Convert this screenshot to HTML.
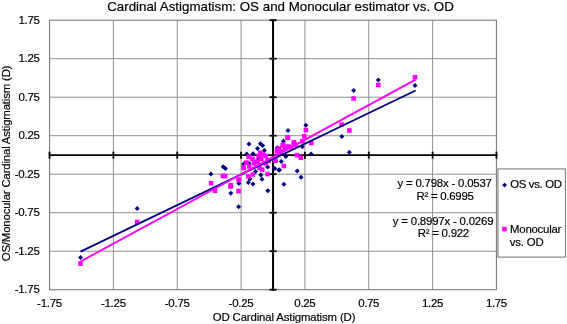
<!DOCTYPE html>
<html><head><meta charset="utf-8"><title>Cardinal Astigmatism</title>
<style>
html,body{margin:0;padding:0;background:#fff;}
body{width:567px;height:324px;overflow:hidden;}
svg{display:block;}
text{font-family:"Liberation Sans",Arial,sans-serif;fill:#000;stroke:#000;stroke-width:0.18;}
</style></head><body>
<svg width="567" height="324" viewBox="0 0 567 324">
<rect x="0" y="0" width="567" height="324" fill="#fff"/>

<g stroke="#909090" stroke-width="1" fill="none">
<line x1="113.39" y1="20.20" x2="113.39" y2="289.70"/>
<line x1="177.24" y1="20.20" x2="177.24" y2="289.70"/>
<line x1="241.08" y1="20.20" x2="241.08" y2="289.70"/>
<line x1="304.92" y1="20.20" x2="304.92" y2="289.70"/>
<line x1="368.76" y1="20.20" x2="368.76" y2="289.70"/>
<line x1="432.61" y1="20.20" x2="432.61" y2="289.70"/>
<line x1="49.55" y1="58.70" x2="496.45" y2="58.70"/>
<line x1="49.55" y1="97.20" x2="496.45" y2="97.20"/>
<line x1="49.55" y1="135.70" x2="496.45" y2="135.70"/>
<line x1="49.55" y1="174.20" x2="496.45" y2="174.20"/>
<line x1="49.55" y1="212.70" x2="496.45" y2="212.70"/>
<line x1="49.55" y1="251.20" x2="496.45" y2="251.20"/>
</g>
<rect x="49.55" y="20.20" width="446.90" height="269.50" fill="none" stroke="#808080" stroke-width="1.15"/>
<g stroke="#000" fill="none">
<line x1="48.65" y1="155.15" x2="497.35" y2="155.15" stroke-width="1.9"/>
<line x1="273.05" y1="19.40" x2="273.05" y2="290.70" stroke-width="2"/>
<line x1="49.55" y1="151.65" x2="49.55" y2="158.65" stroke-width="1.8"/>
<line x1="113.39" y1="151.65" x2="113.39" y2="158.65" stroke-width="1.8"/>
<line x1="177.24" y1="151.65" x2="177.24" y2="158.65" stroke-width="1.8"/>
<line x1="241.08" y1="151.65" x2="241.08" y2="158.65" stroke-width="1.8"/>
<line x1="304.92" y1="151.65" x2="304.92" y2="158.65" stroke-width="1.8"/>
<line x1="368.76" y1="151.65" x2="368.76" y2="158.65" stroke-width="1.8"/>
<line x1="432.61" y1="151.65" x2="432.61" y2="158.65" stroke-width="1.8"/>
<line x1="496.45" y1="151.65" x2="496.45" y2="158.65" stroke-width="1.8"/>
<line x1="269.55" y1="20.20" x2="276.55" y2="20.20" stroke-width="1.8"/>
<line x1="269.55" y1="58.70" x2="276.55" y2="58.70" stroke-width="1.8"/>
<line x1="269.55" y1="97.20" x2="276.55" y2="97.20" stroke-width="1.8"/>
<line x1="269.55" y1="135.70" x2="276.55" y2="135.70" stroke-width="1.8"/>
<line x1="269.55" y1="174.20" x2="276.55" y2="174.20" stroke-width="1.8"/>
<line x1="269.55" y1="212.70" x2="276.55" y2="212.70" stroke-width="1.8"/>
<line x1="269.55" y1="251.20" x2="276.55" y2="251.20" stroke-width="1.8"/>
<line x1="269.55" y1="289.70" x2="276.55" y2="289.70" stroke-width="1.8"/>
</g>
<g fill="#000080">
<path d="M137.2 206.0L139.7 208.5L137.2 211.0L134.7 208.5Z"/>
<path d="M80.5 254.9L83.0 257.4L80.5 259.9L78.0 257.4Z"/>
<path d="M353.6 88.1L356.1 90.6L353.6 93.1L351.1 90.6Z"/>
<path d="M378.3 77.5L380.8 80.0L378.3 82.5L375.8 80.0Z"/>
<path d="M415 82.9L417.5 85.4L415 87.9L412.5 85.4Z"/>
<path d="M341.9 133.9L344.4 136.4L341.9 138.9L339.4 136.4Z"/>
<path d="M349.4 149.8L351.9 152.3L349.4 154.8L346.9 152.3Z"/>
<path d="M305.9 122.8L308.4 125.3L305.9 127.8L303.4 125.3Z"/>
<path d="M288.0 128.0L290.5 130.5L288.0 133.0L285.5 130.5Z"/>
<path d="M283.4 138.8L285.9 141.3L283.4 143.8L280.9 141.3Z"/>
<path d="M302.4 144.2L304.9 146.7L302.4 149.2L299.9 146.7Z"/>
<path d="M311.1 151.6L313.6 154.1L311.1 156.6L308.6 154.1Z"/>
<path d="M285.8 153.9L288.3 156.4L285.8 158.9L283.3 156.4Z"/>
<path d="M281.3 159.1L283.8 161.6L281.3 164.1L278.8 161.6Z"/>
<path d="M297.2 168.4L299.7 170.9L297.2 173.4L294.7 170.9Z"/>
<path d="M301.0 174.8L303.5 177.3L301.0 179.8L298.5 177.3Z"/>
<path d="M283.8 181.8L286.3 184.3L283.8 186.8L281.3 184.3Z"/>
<path d="M279.5 167.5L282.0 170.0L279.5 172.5L277.0 170.0Z"/>
<path d="M249.0 141.6L251.5 144.1L249.0 146.6L246.5 144.1Z"/>
<path d="M260.4 141.3L262.9 143.8L260.4 146.3L257.9 143.8Z"/>
<path d="M262.6 143.1L265.1 145.6L262.6 148.1L260.1 145.6Z"/>
<path d="M257.5 146.1L260.0 148.6L257.5 151.1L255.0 148.6Z"/>
<path d="M264.4 148.0L266.9 150.5L264.4 153.0L261.9 150.5Z"/>
<path d="M246.8 151.6L249.3 154.1L246.8 156.6L244.3 154.1Z"/>
<path d="M253.1 151.2L255.6 153.7L253.1 156.2L250.6 153.7Z"/>
<path d="M277.4 145.3L279.9 147.8L277.4 150.3L274.9 147.8Z"/>
<path d="M243.9 161.4L246.4 163.9L243.9 166.4L241.4 163.9Z"/>
<path d="M249.2 161.0L251.7 163.5L249.2 166.0L246.7 163.5Z"/>
<path d="M258.2 157.1L260.7 159.6L258.2 162.1L255.7 159.6Z"/>
<path d="M267.6 164.4L270.1 166.9L267.6 169.4L265.1 166.9Z"/>
<path d="M274.7 166.1L277.2 168.6L274.7 171.1L272.2 168.6Z"/>
<path d="M278.7 167.6L281.2 170.1L278.7 172.6L276.2 170.1Z"/>
<path d="M260.9 172.5L263.4 175.0L260.9 177.5L258.4 175.0Z"/>
<path d="M262.0 176.8L264.5 179.3L262.0 181.8L259.5 179.3Z"/>
<path d="M248.3 179.9L250.8 182.4L248.3 184.9L245.8 182.4Z"/>
<path d="M253.0 181.5L255.5 184.0L253.0 186.5L250.5 184.0Z"/>
<path d="M238.9 181.0L241.4 183.5L238.9 186.0L236.4 183.5Z"/>
<path d="M255.5 168.9L258.0 171.4L255.5 173.9L253.0 171.4Z"/>
<path d="M250.0 176.5L252.5 179.0L250.0 181.5L247.5 179.0Z"/>
<path d="M230.8 190.8L233.3 193.3L230.8 195.8L228.3 193.3Z"/>
<path d="M238.6 204.3L241.1 206.8L238.6 209.3L236.1 206.8Z"/>
<path d="M267.8 188.3L270.3 190.8L267.8 193.3L265.3 190.8Z"/>
<path d="M210.9 171.6L213.4 174.1L210.9 176.6L208.4 174.1Z"/>
<path d="M223.2 164.3L225.7 166.8L223.2 169.3L220.7 166.8Z"/>
<path d="M225.4 166.1L227.9 168.6L225.4 171.1L222.9 168.6Z"/>
<path d="M244.2 161.4L246.7 163.9L244.2 166.4L241.7 163.9Z"/>
</g>
<g fill="#ff00ff">
<rect x="134.9" y="219.7" width="4.6" height="4.6"/>
<rect x="78.2" y="261.3" width="4.6" height="4.6"/>
<rect x="351.3" y="96.2" width="4.6" height="4.6"/>
<rect x="376.0" y="82.7" width="4.6" height="4.6"/>
<rect x="412.7" y="74.9" width="4.6" height="4.6"/>
<rect x="339.3" y="122.2" width="4.6" height="4.6"/>
<rect x="347.1" y="128.2" width="4.6" height="4.6"/>
<rect x="303.6" y="127.8" width="4.6" height="4.6"/>
<rect x="285.7" y="135.6" width="4.6" height="4.6"/>
<rect x="301.9" y="134.0" width="4.6" height="4.6"/>
<rect x="300.1" y="139.0" width="4.6" height="4.6"/>
<rect x="291.6" y="140.7" width="4.6" height="4.6"/>
<rect x="309.0" y="140.7" width="4.6" height="4.6"/>
<rect x="281.1" y="142.5" width="4.6" height="4.6"/>
<rect x="286.7" y="144.5" width="4.6" height="4.6"/>
<rect x="294.7" y="152.9" width="4.6" height="4.6"/>
<rect x="298.5" y="155.4" width="4.6" height="4.6"/>
<rect x="281.5" y="163.7" width="4.6" height="4.6"/>
<rect x="280.4" y="143.1" width="4.6" height="4.6"/>
<rect x="278.6" y="149.3" width="4.6" height="4.6"/>
<rect x="258.1" y="150.5" width="4.6" height="4.6"/>
<rect x="260.8" y="152.2" width="4.6" height="4.6"/>
<rect x="263.5" y="153.6" width="4.6" height="4.6"/>
<rect x="246.5" y="154.5" width="4.6" height="4.6"/>
<rect x="250.1" y="156.7" width="4.6" height="4.6"/>
<rect x="256.3" y="153.6" width="4.6" height="4.6"/>
<rect x="254.5" y="159.4" width="4.6" height="4.6"/>
<rect x="244.2" y="160.3" width="4.6" height="4.6"/>
<rect x="274.7" y="149.1" width="4.6" height="4.6"/>
<rect x="272.4" y="156.3" width="4.6" height="4.6"/>
<rect x="265.3" y="158.1" width="4.6" height="4.6"/>
<rect x="259.0" y="156.7" width="4.6" height="4.6"/>
<rect x="241.1" y="165.1" width="4.6" height="4.6"/>
<rect x="246.9" y="164.2" width="4.6" height="4.6"/>
<rect x="251.9" y="161.1" width="4.6" height="4.6"/>
<rect x="255.4" y="159.3" width="4.6" height="4.6"/>
<rect x="257.2" y="165.5" width="4.6" height="4.6"/>
<rect x="259.9" y="167.3" width="4.6" height="4.6"/>
<rect x="265.3" y="171.8" width="4.6" height="4.6"/>
<rect x="250.5" y="172.2" width="4.6" height="4.6"/>
<rect x="246.0" y="174.0" width="4.6" height="4.6"/>
<rect x="236.6" y="177.2" width="4.6" height="4.6"/>
<rect x="228.6" y="183.0" width="4.6" height="4.6"/>
<rect x="263.5" y="161.1" width="4.6" height="4.6"/>
<rect x="266.2" y="158.4" width="4.6" height="4.6"/>
<rect x="273.3" y="158.4" width="4.6" height="4.6"/>
<rect x="208.8" y="180.9" width="4.6" height="4.6"/>
<rect x="212.6" y="188.5" width="4.6" height="4.6"/>
<rect x="228.2" y="184.2" width="4.6" height="4.6"/>
<rect x="236.3" y="188.8" width="4.6" height="4.6"/>
<rect x="236.3" y="177.8" width="4.6" height="4.6"/>
<rect x="220.6" y="173.7" width="4.6" height="4.6"/>
<rect x="222.9" y="173.7" width="4.6" height="4.6"/>
<rect x="241.4" y="165.7" width="4.6" height="4.6"/>
<rect x="285.3" y="135.1" width="4.6" height="4.6"/>
<rect x="291.7" y="140.1" width="4.6" height="4.6"/>
<rect x="285.3" y="144.4" width="4.6" height="4.6"/>
<rect x="275.0" y="147.9" width="4.6" height="4.6"/>
<rect x="276.7" y="146.2" width="4.6" height="4.6"/>
<rect x="282.7" y="146.7" width="4.6" height="4.6"/>
<rect x="288.7" y="145.2" width="4.6" height="4.6"/>
<rect x="293.7" y="142.7" width="4.6" height="4.6"/>
</g>
<line x1="80.5" y1="251.7" x2="415.6" y2="90.5" stroke="#000080" stroke-width="1.85"/>
<line x1="80.5" y1="261.5" x2="415.6" y2="79.7" stroke="#ff00ff" stroke-width="1.9"/>
<text x="280.5" y="10.8" font-size="13.33" text-anchor="middle">Cardinal Astigmatism: OS and Monocular estimator vs. OD</text>
<text x="18.55" y="23.8" font-size="11.5" textLength="21.3" lengthAdjust="spacing">1.75</text>
<text x="18.55" y="62.3" font-size="11.5" textLength="21.3" lengthAdjust="spacing">1.25</text>
<text x="18.55" y="100.8" font-size="11.5" textLength="21.3" lengthAdjust="spacing">0.75</text>
<text x="18.55" y="139.3" font-size="11.5" textLength="21.3" lengthAdjust="spacing">0.25</text>
<text x="14.65" y="177.8" font-size="11.5" textLength="25.2" lengthAdjust="spacing">-0.25</text>
<text x="14.65" y="216.3" font-size="11.5" textLength="25.2" lengthAdjust="spacing">-0.75</text>
<text x="14.65" y="254.8" font-size="11.5" textLength="25.2" lengthAdjust="spacing">-1.25</text>
<text x="14.65" y="293.3" font-size="11.5" textLength="25.2" lengthAdjust="spacing">-1.75</text>
<text x="37.05" y="306.5" font-size="11.5" textLength="25.2" lengthAdjust="spacing">-1.75</text>
<text x="100.89" y="306.5" font-size="11.5" textLength="25.2" lengthAdjust="spacing">-1.25</text>
<text x="164.74" y="306.5" font-size="11.5" textLength="25.2" lengthAdjust="spacing">-0.75</text>
<text x="228.58" y="306.5" font-size="11.5" textLength="25.2" lengthAdjust="spacing">-0.25</text>
<text x="294.37" y="306.5" font-size="11.5" textLength="21.3" lengthAdjust="spacing">0.25</text>
<text x="358.21" y="306.5" font-size="11.5" textLength="21.3" lengthAdjust="spacing">0.75</text>
<text x="422.06" y="306.5" font-size="11.5" textLength="21.3" lengthAdjust="spacing">1.25</text>
<text x="485.90" y="306.5" font-size="11.5" textLength="21.3" lengthAdjust="spacing">1.75</text>
<text x="212.7" y="320.8" font-size="11.4" textLength="142.8" lengthAdjust="spacing">OD Cardinal Astigmatism (D)</text>
<text transform="translate(10.0,261.3) rotate(-90)" font-size="11.4" textLength="195.8" lengthAdjust="spacing">OS/Monocular Cardinal Astigmatism (D)</text>
<text x="397.6" y="186.7" font-size="11.4" textLength="94.3" lengthAdjust="spacing">y = 0.798x - 0.0537</text>
<text x="416.6" y="199.6" font-size="11.4" textLength="57.2" lengthAdjust="spacing">R² = 0.6995</text>
<text x="392.8" y="225.1" font-size="11.4" textLength="100.7" lengthAdjust="spacing">y = 0.8997x - 0.0269</text>
<text x="417.8" y="237.2" font-size="11.4" textLength="51.4" lengthAdjust="spacing">R² = 0.922</text>
<rect x="497.95" y="168.9" width="67.45" height="88.2" fill="#fff" stroke="#858585" stroke-width="1.15"/>
<path d="M504.6 182.7L507.0 185.1L504.6 187.5L502.2 185.1Z" fill="#000080"/>
<text x="510.2" y="188.4" font-size="11.4" textLength="51.7" lengthAdjust="spacing">OS vs. OD</text>
<rect x="502.2" y="226.8" width="4.6" height="4.6" fill="#ff00ff"/>
<text x="510.0" y="232.7" font-size="11.4" textLength="51.4" lengthAdjust="spacing">Monocular</text>
<text x="509.7" y="246" font-size="11.4" textLength="34" lengthAdjust="spacing">vs. OD</text>
</svg></body></html>
